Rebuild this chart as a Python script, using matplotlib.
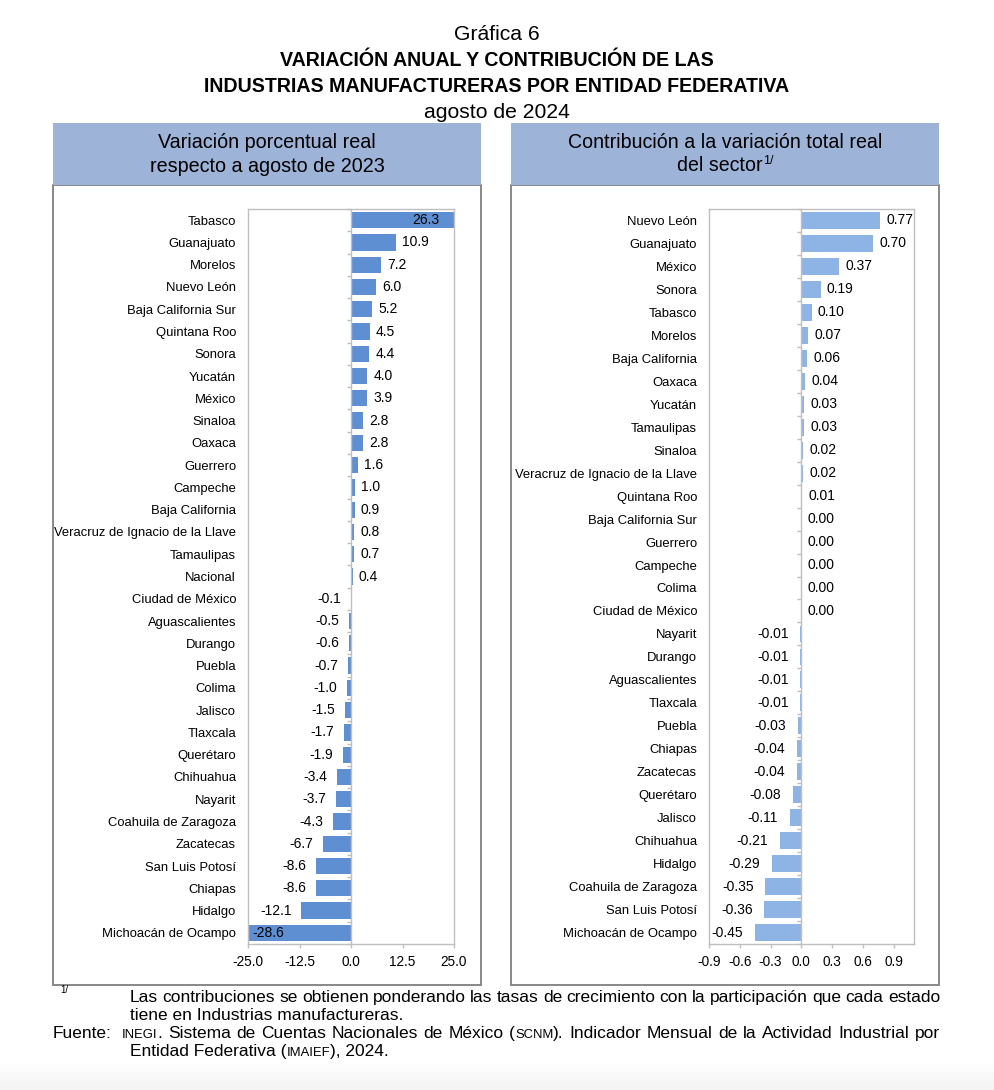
import matplotlib
matplotlib.use('Agg')
import matplotlib.pyplot as plt
from matplotlib.patches import Rectangle
import matplotlib.markers as mmarkers
import numpy as np

plt.rcParams['font.family'] = ['Liberation Sans', 'DejaVu Sans']

# ---------------- data ----------------
var_states = ["Tabasco", "Guanajuato", "Morelos", "Nuevo León", "Baja California Sur",
              "Quintana Roo", "Sonora", "Yucatán", "México", "Sinaloa", "Oaxaca",
              "Guerrero", "Campeche", "Baja California", "Veracruz de Ignacio de la Llave",
              "Tamaulipas", "Nacional", "Ciudad de México", "Aguascalientes", "Durango",
              "Puebla", "Colima", "Jalisco", "Tlaxcala", "Querétaro", "Chihuahua",
              "Nayarit", "Coahuila de Zaragoza", "Zacatecas", "San Luis Potosí",
              "Chiapas", "Hidalgo", "Michoacán de Ocampo"]
var_values = [26.3, 10.9, 7.2, 6.0, 5.2, 4.5, 4.4, 4.0, 3.9, 2.8, 2.8, 1.6, 1.0, 0.9,
              0.8, 0.7, 0.4, -0.1, -0.5, -0.6, -0.7, -1.0, -1.5, -1.7, -1.9, -3.4,
              -3.7, -4.3, -6.7, -8.6, -8.6, -12.1, -28.6]

con_states = ["Nuevo León", "Guanajuato", "México", "Sonora", "Tabasco", "Morelos",
              "Baja California", "Oaxaca", "Yucatán", "Tamaulipas", "Sinaloa",
              "Veracruz de Ignacio de la Llave", "Quintana Roo", "Baja California Sur",
              "Guerrero", "Campeche", "Colima", "Ciudad de México", "Nayarit", "Durango",
              "Aguascalientes", "Tlaxcala", "Puebla", "Chiapas", "Zacatecas", "Querétaro",
              "Jalisco", "Chihuahua", "Hidalgo", "Coahuila de Zaragoza", "San Luis Potosí",
              "Michoacán de Ocampo"]
con_values = [0.77, 0.70, 0.37, 0.19, 0.10, 0.07, 0.06, 0.04, 0.03, 0.03, 0.02, 0.02,
              0.01, 0.00, 0.00, 0.00, 0.00, 0.00, -0.01, -0.01, -0.01, -0.01, -0.03,
              -0.04, -0.04, -0.08, -0.11, -0.21, -0.29, -0.35, -0.36, -0.45]

var_ticks = [-25.0, -12.5, 0.0, 12.5, 25.0]
con_ticks = [-0.9, -0.6, -0.3, 0.0, 0.3, 0.6, 0.9]

# ---------------- styles ----------------
W, H = 994, 1090
fig = plt.figure(figsize=(W / 100, H / 100), dpi=100)
renderer = fig.canvas.get_renderer()

def fx(px):
    return px / W

def fy(py):
    return 1 - py / H

HEADER = '#9DB3D8'
FRAME = '#7F7F7F'
GRID = '#BFBFBF'
BAR_L = '#5F8FD3'
BAR_R = '#8EB3E5'

# ---------------- titles ----------------
fig.text(fx(497), fy(34), "Gráfica 6", ha='center', va='center', fontsize=15.2)
fig.text(fx(497), fy(60), "VARIACIÓN ANUAL Y CONTRIBUCIÓN DE LAS", ha='center',
         va='center', fontsize=14.1, fontweight='bold')
fig.text(fx(497), fy(87), "INDUSTRIAS MANUFACTURERAS POR ENTIDAD FEDERATIVA", ha='center',
         va='center', fontsize=14.1, fontweight='bold')
fig.text(fx(497), fy(112), "agosto de 2024", ha='center', va='center', fontsize=15.2)


def runs(x_px, y_px, parts, center=False):
    """parts: list of (text, size, dy_px). y_px is baseline."""
    objs = []
    for text, size, dy in parts:
        t = fig.text(0, fy(y_px + dy), text, fontsize=size, ha='left', va='baseline')
        objs.append(t)
    widths = [t.get_window_extent(renderer).width for t in objs]
    x = x_px - (sum(widths) / 2 if center else 0)
    for t, w in zip(objs, widths):
        t.set_x(fx(x))
        x += w


def justified(x0_px, x1_px, y_px, words):
    """words: list of words, each a list of (text, size) pieces; spread from x0 to x1."""
    placed = []
    for word in words:
        objs = []
        for text, size in word:
            t = fig.text(0, fy(y_px), text, fontsize=size, ha='left', va='baseline')
            objs.append((t, t.get_window_extent(renderer).width))
        placed.append(objs)
    wsum = sum(w for objs in placed for _, w in objs)
    gap = (x1_px - x0_px - wsum) / (len(placed) - 1)
    x = x0_px
    for objs in placed:
        for t, w in objs:
            t.set_x(fx(x))
            x += w
        x += gap


# ---------------- panel frames ----------------
for x0, x1 in [(53, 481), (511, 939)]:
    fig.patches.append(Rectangle((fx(x0), fy(985)), fx(x1) - fx(x0), fy(185) - fy(985),
                                 transform=fig.transFigure, facecolor='none',
                                 edgecolor=FRAME, lw=1.3))
    fig.patches.append(Rectangle((fx(x0), fy(185)), fx(x1) - fx(x0), fy(123) - fy(185),
                                 transform=fig.transFigure, facecolor=HEADER,
                                 edgecolor='none'))

fig.text(fx(267), fy(143), "Variación porcentual real", ha='center', va='center', fontsize=14.2)
fig.text(fx(267), fy(166), "respecto a agosto de 2023", ha='center', va='center', fontsize=14.2)
fig.text(fx(725), fy(143), "Contribución a la variación total real", ha='center',
         va='center', fontsize=14.1)
runs(725, 171, [("del sector", 14.1, 0), ("1/", 9, -7)], center=True)


def panel(rect_px, states, values, xlim, ticks, fmt, valfmt, color, off_pos, off_neg):
    x0, x1, y0, y1 = rect_px
    ax = fig.add_axes([fx(x0), fy(y1), fx(x1) - fx(x0), fy(y0) - fy(y1)])
    n = len(states)
    y = np.arange(n)
    ax.barh(y, values, height=0.73, color=color, zorder=2)
    ax.set_xlim(*xlim)
    ax.set_ylim(n - 0.5, -0.5)
    for s in ax.spines.values():
        s.set_color(GRID)
        s.set_linewidth(1)
    ax.axvline(0, color=GRID, lw=1, zorder=3)
    ax.plot(np.zeros(n + 1), np.arange(n + 1) - 0.5, ls='none',
            marker=mmarkers.TICKLEFT, ms=3, mew=1, color=GRID, zorder=3, clip_on=False)
    ax.set_yticks(y)
    ax.set_yticklabels(states, fontsize=9.4)
    ax.tick_params(axis='y', length=0, pad=8.6)
    ax.set_xticks(ticks)
    ax.set_xticklabels([fmt.format(t) for t in ticks], fontsize=9.8)
    ax.tick_params(axis='x', length=3, width=1, color=GRID, pad=5)
    lo, hi = xlim
    for yi, v in zip(y, values):
        lab = valfmt.format(v)
        if v > hi:
            ax.annotate(lab, (hi, yi), xytext=(-10.5, 0), textcoords='offset points',
                        ha='right', va='center', fontsize=10)
        elif v < lo:
            ax.annotate(lab, (lo, yi), xytext=(3, 0), textcoords='offset points',
                        ha='left', va='center', fontsize=10)
        elif v >= 0:
            ax.annotate(lab, (v, yi), xytext=(off_pos, 0), textcoords='offset points',
                        ha='left', va='center', fontsize=10)
        else:
            ax.annotate(lab, (v, yi), xytext=(-off_neg, 0), textcoords='offset points',
                        ha='right', va='center', fontsize=10)
    return ax


panel((248, 454, 209, 944), var_states, var_values, (-25, 25), var_ticks, "{:.1f}",
      "{:.1f}", BAR_L, 4.5, 7)
panel((709, 914, 209, 944), con_states, con_values, (-0.9, 1.1), con_ticks, "{:.1f}",
      "{:.2f}", BAR_R, 4.5, 8.5)

# ---------------- footnotes ----------------
FS = 12.5
SC = 9.4
fig.text(fx(60), fy(993), "1/", fontsize=7, ha='left', va='baseline')
line1 = ("Las contribuciones se obtienen ponderando las tasas de crecimiento con la "
         "participación que cada estado")
justified(130, 940, 1002, [[(w, FS)] for w in line1.split(" ")])
runs(130, 1020, [("tiene en Industrias manufactureras.", FS, 0)])
fig.text(fx(53), fy(1038), "Fuente:", fontsize=FS, ha='left', va='baseline')
line3 = [[("INEGI", SC), (".", FS)]] + \
        [[(w, FS)] for w in "Sistema de Cuentas Nacionales de México".split(" ")] + \
        [[("(", FS), ("SCNM", SC), (").", FS)]] + \
        [[(w, FS)] for w in "Indicador Mensual de la Actividad Industrial por".split(" ")]
justified(122, 940, 1038, line3)
runs(130, 1056, [("Entidad Federativa (", FS, 0), ("IMAIEF", SC, 0), ("), 2024.", FS, 0)])

# light gray band at the bottom
bg = fig.add_axes([0, 0, 1, fy(1062)], zorder=-5)
grad = np.linspace(1.0, 0.955, 50)[:, None] * np.ones((1, 2))
bg.imshow(np.dstack([grad, grad, grad]), aspect='auto', extent=(0, 1, 0, 1),
          interpolation='bilinear')
bg.axis('off')

fig.savefig('out.png', dpi=100)
